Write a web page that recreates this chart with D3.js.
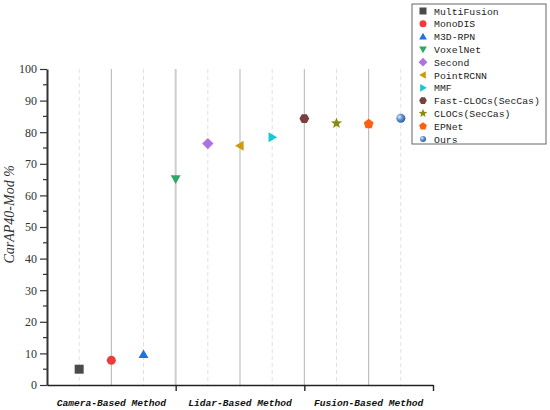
<!DOCTYPE html>
<html>
<head>
<meta charset="utf-8">
<script src="https://cdn.jsdelivr.net/npm/d3@7"></script>
<style>
  body { margin: 0; background: #fff; }
  svg { display: block; }
</style>
</head>
<body>
<div id="chart"></div>
<script>
// methods, one per vertical line
var methods = ["MultiFusion", "MonoDIS", "M3D-RPN", "VoxelNet", "Second", "PointRCNN",
               "MMF", "Fast-CLOCs(SecCas)", "CLOCs(SecCas)", "EPNet", "Ours"];
var scores = [5.0, 7.8, 9.7, 65.2, 76.4, 75.7, 78.4, 84.3, 82.8, 82.6, 84.4];
var colors = ["#4a4a4a", "#f03a3a", "#1f6fe6", "#2ea865", "#b070e0", "#d19a0a",
              "#16c8d0", "#7a4040", "#8a8a10", "#ff6010", "#5b8fd0"];
var shapes = ["square", "circle", "up", "down", "diamond", "left",
              "right", "hexagon", "star", "pentagon", "ball"];
var groups = ["Camera-Based Method", "Lidar-Based Method", "Fusion-Based Method"];
var yTicks = [0, 10, 20, 30, 40, 50, 60, 70, 80, 90, 100];

var width = 550, height = 410;
var svg = d3.select("#chart").append("svg")
  .attr("width", width)
  .attr("height", height);

var x = d3.scaleLinear().domain([0, 12]).range([47, 433]);
var y = d3.scaleLinear().domain([0, 100]).range([385, 69]);

// gradient for the "Ours" ball
var grad = svg.append("defs").append("radialGradient")
  .attr("id", "ball").attr("cx", "35%").attr("cy", "35%").attr("r", "65%");
grad.append("stop").attr("offset", "0%").attr("stop-color", "#e8f0fa");
grad.append("stop").attr("offset", "45%").attr("stop-color", "#6b9ad6");
grad.append("stop").attr("offset", "100%").attr("stop-color", "#2f5fa0");

// vertical lines: dashed at each method, solid between, thicker at group borders
var idx = d3.range(1, 12);
svg.append("g").selectAll("line")
  .data(idx)
  .enter().append("line")
  .attr("x1", function(d) { return x(d); })
  .attr("x2", function(d) { return x(d); })
  .attr("y1", y(100))
  .attr("y2", y(0))
  .attr("stroke", function(d) {
    if (d % 2 == 1) return "#e0e0e0";
    if (d == 4) return "#cdcdcd";
    return "#b4b4b4";
  })
  .attr("stroke-width", function(d) { return d == 4 ? 2 : 1; })
  .attr("stroke-dasharray", function(d) { return d % 2 == 1 ? "4,3" : null; });

// y axis
var yAxis = d3.axisLeft(y).tickValues(yTicks).tickSize(7).tickSizeOuter(0).tickPadding(3);
var gy = svg.append("g")
  .attr("transform", "translate(" + x(0) + ",0)")
  .call(yAxis);
gy.attr("font-family", "'Liberation Serif', 'Times New Roman', serif");
gy.select(".domain").attr("stroke", "#333").attr("stroke-width", 2);
gy.selectAll(".tick line").attr("stroke", "#333").attr("stroke-width", 1.2);
gy.selectAll("text")
  .attr("font-family", "'Liberation Serif', 'Times New Roman', serif")
  .attr("font-size", 12)
  .attr("fill", "#333");
// minor ticks
svg.append("g").selectAll("line")
  .data(d3.range(5, 100, 10))
  .enter().append("line")
  .attr("x1", x(0) - 4).attr("x2", x(0))
  .attr("y1", function(d) { return y(d); })
  .attr("y2", function(d) { return y(d); })
  .attr("stroke", "#333").attr("stroke-width", 1.2);

// x axis
var xAxis = d3.axisBottom(x).tickValues([4, 8, 12]).tickSize(6).tickSizeOuter(0).tickFormat("");
var gx = svg.append("g")
  .attr("transform", "translate(0," + y(0) + ")")
  .call(xAxis);
gx.select(".domain").attr("stroke", "#222").attr("stroke-width", 1.6);
gx.selectAll(".tick line").attr("stroke", "#222").attr("stroke-width", 1.4);

svg.append("g").selectAll("text")
  .data(groups)
  .enter().append("text")
  .attr("x", function(d, i) { return x(2 + i * 4); })
  .attr("y", 406)
  .attr("text-anchor", "middle")
  .attr("font-family", "'Liberation Mono', 'DejaVu Sans Mono', monospace")
  .attr("font-size", 9.6)
  .attr("font-weight", "bold")
  .attr("font-style", "italic")
  .attr("fill", "#111")
  .text(function(d) { return d; });

// y label
svg.append("text")
  .attr("transform", "translate(14," + y(54) + ") rotate(-90)")
  .attr("text-anchor", "middle")
  .attr("font-family", "'Liberation Serif', 'Times New Roman', serif")
  .attr("font-style", "italic")
  .attr("font-size", 14)
  .attr("fill", "#333")
  .text("CarAP40-Mod %");

// marker shapes
function markerPath(shape, s) {
  var r = s / 2, p = [], k;
  switch (shape) {
    case "square": return "M" + -r + "," + -r + "h" + s + "v" + s + "h" + -s + "Z";
    case "up": return "M0," + (-r * 1.1) + "L" + r * 1.1 + "," + r * 0.8 + "L" + -r * 1.1 + "," + r * 0.8 + "Z";
    case "down": return "M0," + (r * 1.1) + "L" + r * 1.1 + "," + -r * 0.8 + "L" + -r * 1.1 + "," + -r * 0.8 + "Z";
    case "left": return "M" + (-r * 1.1) + ",0L" + r * 0.8 + "," + -r * 1.1 + "L" + r * 0.8 + "," + r * 1.1 + "Z";
    case "right": return "M" + (r * 1.1) + ",0L" + -r * 0.8 + "," + -r * 1.1 + "L" + -r * 0.8 + "," + r * 1.1 + "Z";
    case "diamond": return "M0," + (-r * 1.25) + "L" + r * 1.25 + ",0L0," + r * 1.25 + "L" + -r * 1.25 + ",0Z";
    case "hexagon":
      for (k = 0; k < 6; k++) p.push([r * 1.1 * Math.cos(Math.PI / 3 * k), r * 1.1 * Math.sin(Math.PI / 3 * k)]);
      return "M" + p.join("L") + "Z";
    case "pentagon":
      for (k = 0; k < 5; k++) p.push([r * 1.15 * Math.sin(2 * Math.PI / 5 * k), -r * 1.15 * Math.cos(2 * Math.PI / 5 * k)]);
      return "M" + p.join("L") + "Z";
    case "star":
      for (k = 0; k < 10; k++) {
        var rr = k % 2 == 0 ? r * 1.3 : r * 0.55;
        p.push([rr * Math.sin(Math.PI / 5 * k), -rr * Math.cos(Math.PI / 5 * k)]);
      }
      return "M" + p.join("L") + "Z";
    default:
      return d3.symbol().type(d3.symbolCircle).size(Math.PI * r * r)();
  }
}

function fillOf(i) { return shapes[i] == "ball" ? "url(#ball)" : colors[i]; }

svg.append("g").selectAll("path")
  .data(scores)
  .enter().append("path")
  .attr("transform", function(d, i) { return "translate(" + x(i + 1) + "," + y(d) + ")"; })
  .attr("d", function(d, i) { return markerPath(shapes[i], 9); })
  .attr("fill", function(d, i) { return fillOf(i); });

// legend
var legend = svg.append("g").attr("transform", "translate(412,4)");
legend.append("rect")
  .attr("x", 0).attr("y", 0)
  .attr("width", 134).attr("height", 140)
  .attr("fill", "#fff")
  .attr("stroke", "#666")
  .attr("stroke-width", 1);
var rows = legend.selectAll(".row")
  .data(methods)
  .enter().append("g")
  .attr("class", "row")
  .attr("transform", function(d, i) { return "translate(0," + (7 + i * 12.8) + ")"; });
rows.append("path")
  .attr("transform", "translate(11,0)")
  .attr("d", function(d, i) { return markerPath(shapes[i], i == 10 ? 6 : 7); })
  .attr("fill", function(d, i) { return fillOf(i); });
rows.append("text")
  .attr("x", 22)
  .attr("y", 3.5)
  .attr("font-family", "'Liberation Mono', 'DejaVu Sans Mono', monospace")
  .attr("font-size", 9.8)
  .attr("fill", "#222")
  .text(function(d) { return d; });
</script>
</body>
</html>
